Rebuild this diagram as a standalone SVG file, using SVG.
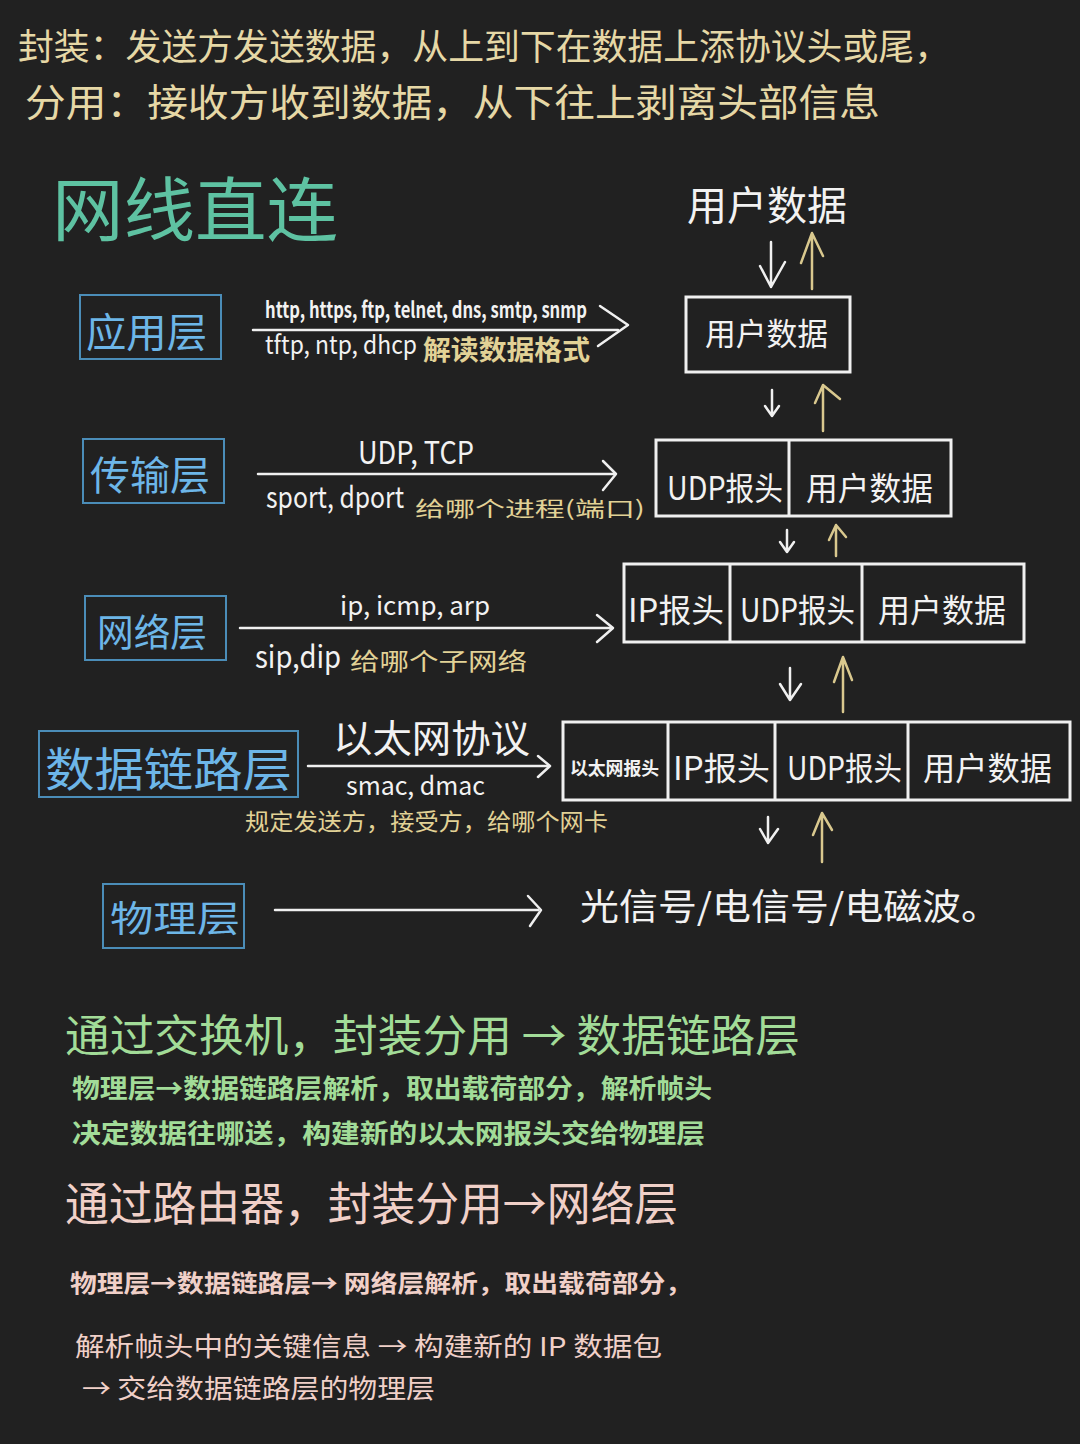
<svg xmlns="http://www.w3.org/2000/svg" width="1080" height="1444" viewBox="0 0 1080 1444">
<style>
text{font-family:"Noto Sans CJK SC","Noto Sans",sans-serif;}
.hdr{fill:#e6d8a6;}
.title{fill:#5ec2a2;}
.lay rect{fill:none;stroke:#4b8db8;stroke-width:2;}
.lay text{fill:#6db6e8;}
.w{fill:#f2f2f2;}
.y{fill:#e2d296;}
.g{fill:#a2dc98;}
.p{fill:#f0d0c8;}
.box rect,.box line{fill:none;stroke:#f0f0f0;stroke-width:3;}
.box text{fill:#f2f2f2;}
.conn path{fill:none;stroke:#f0f0f0;stroke-width:2.5;stroke-linecap:round;stroke-linejoin:round;}
.conn path.up{stroke:#d9c88e;}
</style>
<rect width="1080" height="1444" fill="#212121"/>

<text class="hdr" x="18" y="60" font-size="36" textLength="932" lengthAdjust="spacingAndGlyphs">封装：发送方发送数据，从上到下在数据上添协议头或尾，</text>
<text class="hdr" x="25" y="116" font-size="38" textLength="855" lengthAdjust="spacingAndGlyphs">分用：接收方收到数据，从下往上剥离头部信息</text>

<text class="title" x="52" y="236" font-size="70" textLength="286" lengthAdjust="spacingAndGlyphs">网线直连</text>

<g id="layer-app" class="lay"><rect x="80" y="295" width="141" height="64"/><text x="86" y="347" font-size="40" textLength="121" lengthAdjust="spacingAndGlyphs">应用层</text></g>
<g id="layer-transport" class="lay"><rect x="83" y="439" width="141" height="64"/><text x="90" y="490" font-size="40" textLength="120" lengthAdjust="spacingAndGlyphs">传输层</text></g>
<g id="layer-network" class="lay"><rect x="85" y="596" width="141" height="64"/><text x="97" y="646" font-size="38" textLength="110" lengthAdjust="spacingAndGlyphs">网络层</text></g>
<g id="layer-datalink" class="lay"><rect x="39" y="731" width="259" height="66"/><text x="45" y="786" font-size="46" textLength="247" lengthAdjust="spacingAndGlyphs">数据链路层</text></g>
<g id="layer-physical" class="lay"><rect x="103" y="884" width="141" height="64"/><text x="110" y="932" font-size="36" textLength="130" lengthAdjust="spacingAndGlyphs">物理层</text></g>

<g id="label-app">
<text class="w" x="265" y="318" font-size="22" font-weight="bold" textLength="322" lengthAdjust="spacingAndGlyphs">http, https, ftp, telnet, dns, smtp, snmp</text>
<text class="w" x="265" y="354" font-size="25" textLength="152" lengthAdjust="spacingAndGlyphs">tftp, ntp, dhcp</text>
<text class="y" x="423" y="360" font-size="27" font-weight="bold" textLength="167" lengthAdjust="spacingAndGlyphs">解读数据格式</text>
</g>
<g id="label-transport">
<text class="w" x="358" y="464" font-size="31" textLength="116" lengthAdjust="spacingAndGlyphs">UDP, TCP</text>
<text class="w" x="266" y="508" font-size="30" textLength="138" lengthAdjust="spacingAndGlyphs">sport, dport</text>
<text class="y" x="415" y="516" font-size="21" textLength="230" lengthAdjust="spacingAndGlyphs">给哪个进程(端口)</text>
</g>
<g id="label-network">
<text class="w" x="340" y="615" font-size="26" textLength="150" lengthAdjust="spacingAndGlyphs">ip, icmp, arp</text>
<text class="w" x="255" y="668" font-size="31" textLength="86" lengthAdjust="spacingAndGlyphs">sip,dip</text>
<text class="y" x="350" y="670" font-size="24" textLength="177" lengthAdjust="spacingAndGlyphs">给哪个子网络</text>
</g>
<g id="label-datalink">
<text class="w" x="333" y="752" font-size="38" textLength="197" lengthAdjust="spacingAndGlyphs">以太网协议</text>
<text class="w" x="346" y="795" font-size="26" textLength="139" lengthAdjust="spacingAndGlyphs">smac, dmac</text>
<text class="y" x="245" y="830" font-size="23" textLength="363" lengthAdjust="spacingAndGlyphs">规定发送方，接受方，给哪个网卡</text>
</g>
<g id="label-physical">
<text class="w" x="580" y="920" font-size="36" textLength="420" lengthAdjust="spacingAndGlyphs">光信号/电信号/电磁波。</text>
</g>

<g id="data-top"><text class="w" x="687" y="220" font-size="40" textLength="160" lengthAdjust="spacingAndGlyphs">用户数据</text></g>

<g id="frame-1" class="box">
<rect x="686" y="297" width="164" height="75"/>
<text x="705" y="345" font-size="31" textLength="123" lengthAdjust="spacingAndGlyphs">用户数据</text>
</g>
<g id="frame-2" class="box">
<rect x="656" y="440" width="295" height="76"/>
<line x1="789" y1="440" x2="789" y2="516"/>
<text x="667" y="500" font-size="32" textLength="116" lengthAdjust="spacingAndGlyphs">UDP报头</text>
<text x="806" y="500" font-size="32" textLength="127" lengthAdjust="spacingAndGlyphs">用户数据</text>
</g>
<g id="frame-3" class="box">
<rect x="624" y="564" width="400" height="78"/>
<line x1="730" y1="564" x2="730" y2="642"/>
<line x1="862" y1="564" x2="862" y2="642"/>
<text x="628" y="622" font-size="32" textLength="96" lengthAdjust="spacingAndGlyphs">IP报头</text>
<text x="740" y="622" font-size="32" textLength="115" lengthAdjust="spacingAndGlyphs">UDP报头</text>
<text x="878" y="622" font-size="32" textLength="128" lengthAdjust="spacingAndGlyphs">用户数据</text>
</g>
<g id="frame-4" class="box">
<rect x="563" y="722" width="507" height="78"/>
<line x1="668" y1="722" x2="668" y2="800"/>
<line x1="775" y1="722" x2="775" y2="800"/>
<line x1="908" y1="722" x2="908" y2="800"/>
<text x="570" y="775" font-size="18" font-weight="bold" textLength="89" lengthAdjust="spacingAndGlyphs">以太网报头</text>
<text x="673" y="780" font-size="32" textLength="97" lengthAdjust="spacingAndGlyphs">IP报头</text>
<text x="787" y="780" font-size="32" textLength="115" lengthAdjust="spacingAndGlyphs">UDP报头</text>
<text x="923" y="780" font-size="32" textLength="129" lengthAdjust="spacingAndGlyphs">用户数据</text>
</g>

<g id="connectors" class="conn">
<path d="M253,330 L618,330"/><path d="M600,306 L628,325 L598,346"/>
<path d="M258,474 L615,474"/><path d="M603,461 L616,474 L603,490"/>
<path d="M240,628 L612,628"/><path d="M597,615 L613,628 L597,642"/>
<path d="M308,766 L548,766"/><path d="M538,756 L550,766 L538,777"/>
<path d="M275,910 L538,910"/><path d="M528,896 L541,910 L530,926"/>

<path d="M771,242 L771,287 M760,266 L771,287 L785,262"/>
<path class="up" d="M812,289 L812,233 M801,263 L812,233 L823,256"/>
<path d="M772,390 L772,416 M765,406 L772,416 L779,406"/>
<path class="up" d="M823,431 L823,385 M815,403 L823,385 L840,399"/>
<path d="M787,530 L787,552 M780,542 L787,552 L794,542"/>
<path class="up" d="M836,556 L836,525 M829,540 L836,525 L846,537"/>
<path d="M790,668 L790,700 M780,684 L790,700 L801,684"/>
<path class="up" d="M843,712 L843,657 M834,682 L843,657 L852,680"/>
<path d="M768,817 L768,843 M760,829 L768,843 L778,829"/>
<path class="up" d="M822,862 L822,813 M813,835 L822,813 L832,830"/>
</g>

<text class="g" x="65" y="1052" font-size="44" textLength="735" lengthAdjust="spacingAndGlyphs">通过交换机，封装分用 → 数据链路层</text>
<text class="g" x="72" y="1098" font-size="26" font-weight="bold" textLength="640" lengthAdjust="spacingAndGlyphs">物理层→数据链路层解析，取出载荷部分，解析帧头</text>
<text class="g" x="72" y="1143" font-size="26" font-weight="bold" textLength="633" lengthAdjust="spacingAndGlyphs">决定数据往哪送，构建新的以太网报头交给物理层</text>

<text class="p" x="65" y="1220" font-size="46" textLength="613" lengthAdjust="spacingAndGlyphs">通过路由器，封装分用→网络层</text>
<text class="p" x="70" y="1292" font-size="24" font-weight="bold" textLength="622" lengthAdjust="spacingAndGlyphs">物理层→数据链路层→ 网络层解析，取出载荷部分，</text>
<text class="p" x="75" y="1356" font-size="26" textLength="587" lengthAdjust="spacingAndGlyphs">解析帧头中的关键信息 → 构建新的 IP 数据包</text>
<text class="p" x="82" y="1398" font-size="26" textLength="353" lengthAdjust="spacingAndGlyphs">→ 交给数据链路层的物理层</text>
</svg>
